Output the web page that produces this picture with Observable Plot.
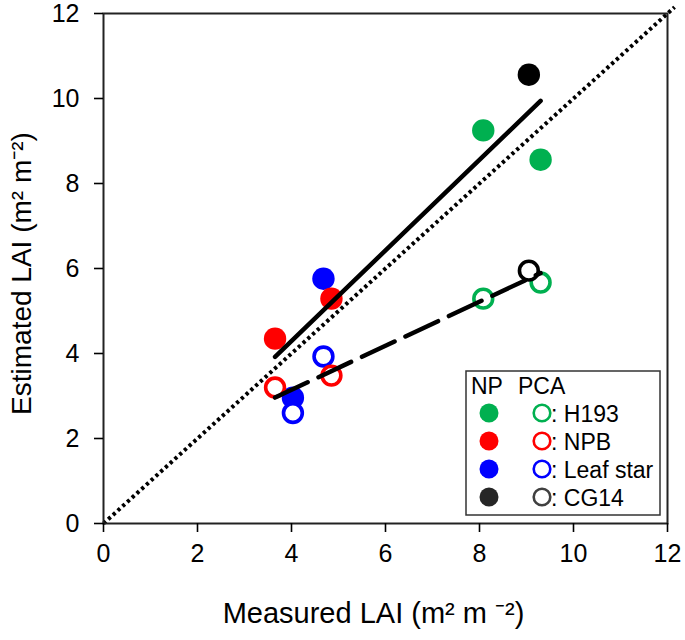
<!DOCTYPE html>
<html>
<head>
<meta charset="utf-8">
<script src="https://cdn.jsdelivr.net/npm/d3@7"></script>
<script src="https://cdn.jsdelivr.net/npm/@observablehq/plot@0.6"></script>
<style>
  html, body { margin: 0; padding: 0; background: #fff; }
  #chart { position: relative; width: 685px; height: 640px; }
</style>
</head>
<body>
<div id="chart"></div>
<script>
// ---- data ----
const varieties = ["H193", "NPB", "Leaf star", "CG14"];
const varietyColors = ["#00b050", "#ff0000", "#0000ff", "#000000"];
const legendFill = ["#00b050", "#ff0000", "#0000ff", "#262626"];
const legendStroke = ["#00b050", "#ff0000", "#0000ff", "#404040"];

const sampleVariety = ["H193", "H193", "Leaf star", "Leaf star", "NPB", "NPB", "CG14"];
const measuredLAI   = [8.08, 9.30, 4.03, 4.68, 3.65, 4.85, 9.05];
const estimatedNP   = [9.25, 8.56, 2.96, 5.76, 4.35, 5.29, 10.56];
const estimatedPCA  = [5.29, 5.67, 2.60, 3.93, 3.20, 3.48, 5.95];

const axisTicks = [0, 2, 4, 6, 8, 10, 12];
const oneToOne = [0, 12.15];
const xTitle = "Measured LAI (m² m ⁻²)";
const yTitle = "Estimated LAI (m² m⁻²)";

// ---- table ----
const rows = measuredLAI.map((m, i) => ({
  variety: sampleVariety[i],
  measured: m,
  np: estimatedNP[i],
  pca: estimatedPCA[i]
}));
const colorOf = v => varietyColors[varieties.indexOf(v)];

const font = "'Liberation Sans', Arial, sans-serif";

const plot = Plot.plot({
  width: 685,
  height: 640,
  marginLeft: 103,
  marginRight: 18,
  marginTop: 13,
  marginBottom: 117,
  x: { domain: [0, 12] },
  y: { domain: [0, 12] },
  style: { fontFamily: font, color: "#000", background: "#fff", overflow: "visible" },
  marks: [
    Plot.dot(rows, { x: "measured", y: "np", r: 11.2, fill: d => colorOf(d.variety), stroke: "none" }),
    Plot.dot(rows, { x: "measured", y: "pca", r: 9.4, fill: "#fff", stroke: d => colorOf(d.variety), strokeWidth: 3.6 }),
    Plot.link([oneToOne], {
      x1: d => d[0], y1: d => d[0], x2: d => d[1], y2: d => d[1],
      stroke: "#000", strokeWidth: 4, strokeDasharray: "3.2,3.2", clip: false
    }),
    Plot.linearRegressionY(rows, { x: "measured", y: "np", stroke: "#000", strokeWidth: 4.5, ci: 0 }),
    Plot.linearRegressionY(rows, { x: "measured", y: "pca", stroke: "#000", strokeWidth: 4.5, strokeDasharray: "36,12", ci: 0 }),
    Plot.frame({ stroke: "#222", strokeWidth: 2 }),
    Plot.axisX({ ticks: axisTicks, tickSize: 9, tickPadding: 12, fontSize: 25, label: null, strokeWidth: 1.6 }),
    Plot.axisY({ ticks: axisTicks, tickSize: 9, tickPadding: 15, fontSize: 25, label: null, strokeWidth: 1.6 }),
    Plot.text([xTitle], { frameAnchor: "bottom", dy: 90, dx: -12, lineAnchor: "middle", textAnchor: "middle", fontSize: 29, text: d => d, fill: "#000" }),
    Plot.text([yTitle], { frameAnchor: "left", dx: -81, dy: 5, rotate: -90, textAnchor: "middle", lineAnchor: "middle", fontSize: 28, text: d => d, fill: "#000" })
  ]
});

document.getElementById("chart").appendChild(plot);

// ---- legend (drawn into the plot's SVG) ----
const svg = d3.select(plot);
const lg = svg.append("g").attr("font-family", font).attr("font-size", 23)
  .attr("fill", "#000").attr("text-anchor", "start");
lg.append("rect").attr("x", 466).attr("y", 371).attr("width", 194).attr("height", 144)
  .attr("fill", "#fff").attr("stroke", "#333").attr("stroke-width", 1.5);
lg.append("text").attr("x", 471).attr("y", 394).text("NP");
lg.append("text").attr("x", 518).attr("y", 394).text("PCA");
varieties.forEach((v, i) => {
  const cy = 413 + i * 28;
  lg.append("circle").attr("cx", 489).attr("cy", cy).attr("r", 9.5).attr("fill", legendFill[i]);
  lg.append("circle").attr("cx", 542).attr("cy", cy).attr("r", 8.3).attr("fill", "#fff")
    .attr("stroke", legendStroke[i]).attr("stroke-width", 2.6);
  lg.append("text").attr("x", 551).attr("y", cy + 8.5).text(": " + v);
});
</script>
</body>
</html>
